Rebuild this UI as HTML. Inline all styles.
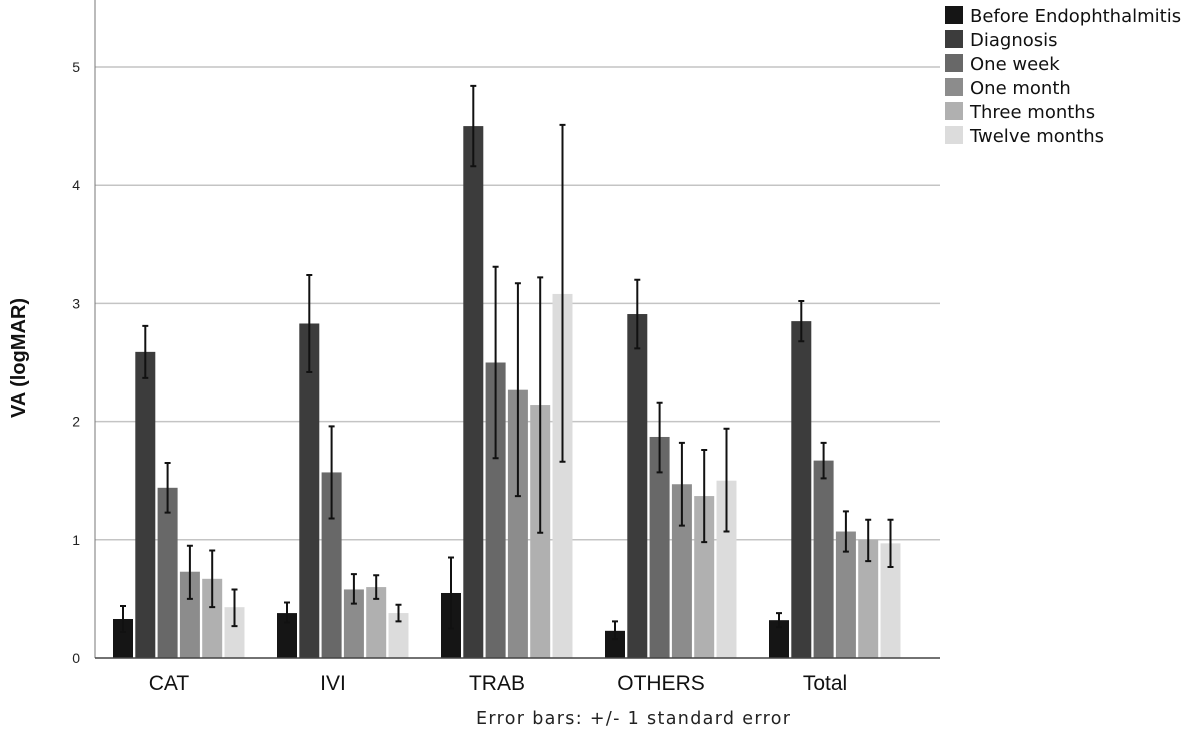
<!DOCTYPE html>
<html><head><meta charset="utf-8"><style>
body{margin:0;background:#fff;}
svg text{font-family:"Liberation Sans",sans-serif;}
</style></head><body>
<svg id="chart" width="1200" height="739" xmlns="http://www.w3.org/2000/svg"></svg>
<script>
const categories=["CAT","IVI","TRAB","OTHERS","Total"];
const seriesNames=["Before Endophthalmitis","Diagnosis","One week","One month","Three months","Twelve months"];
const means=[[0.33,2.59,1.44,0.73,0.67,0.43],[0.38,2.83,1.57,0.58,0.60,0.38],[0.55,4.50,2.50,2.27,2.14,3.08],[0.23,2.91,1.87,1.47,1.37,1.50],[0.32,2.85,1.67,1.07,1.00,0.97]];
const errLow=[[0.22,2.37,1.23,0.50,0.43,0.27],[0.30,2.42,1.18,0.46,0.50,0.31],[0.25,4.16,1.69,1.37,1.06,1.66],[0.16,2.62,1.57,1.12,0.98,1.07],[0.26,2.68,1.52,0.90,0.82,0.77]];
const errHigh=[[0.44,2.81,1.65,0.95,0.91,0.58],[0.47,3.24,1.96,0.71,0.70,0.45],[0.85,4.84,3.31,3.17,3.22,4.51],[0.31,3.20,2.16,1.82,1.76,1.94],[0.38,3.02,1.82,1.24,1.17,1.17]];
const yTicks=[0,1,2,3,4,5];
const colors=["#151515","#3c3c3c","#686868","#8c8c8c","#b0b0b0","#dcdcdc"];
const NS="http://www.w3.org/2000/svg",svg=document.getElementById('chart');
const y0=658,pu=118.2,left=95,right=940;
const y=v=>y0-v*pu;
const gx=i=>113+i*164;
function el(t,a,p){const e=document.createElementNS(NS,t);for(const k in a)e.setAttribute(k,a[k]);(p||svg).appendChild(e);return e;}
yTicks.forEach(t=>{
 if(t>0){const g=el('line',{x1:left,x2:right,y1:y(t),y2:y(t),stroke:'#c4c4c4','stroke-width':1.5});
 
 }
 const l=el('text',{x:80,y:y(t)+5,'text-anchor':'end','font-size':14,fill:'#222'});l.textContent=t;
 
 
});
const ax=el('line',{x1:left,x2:left,y1:0,y2:y0,stroke:'#777','stroke-width':1});


categories.forEach((c,i)=>{
 means[i].forEach((m,j)=>{
  const x=gx(i)+j*22.3;
  const b=el('rect',{x:x,y:y(m),width:20,height:m*pu,fill:colors[j]});
  
  
  const cx=x+10,lo=y(errLow[i][j]),hi=y(errHigh[i][j]);
  const e=el('path',{d:`M${cx},${lo}V${hi}M${cx-3},${lo}H${cx+3}M${cx-3},${hi}H${cx+3}`,stroke:'#111','stroke-width':2,fill:'none'});
  
  
 });
 const t=el('text',{x:gx(i)+56,y:690,'text-anchor':'middle','font-size':21,fill:'#111'});t.textContent=c;
 
 
});
const base=el('line',{x1:left,x2:right,y1:y0,y2:y0,stroke:'#444','stroke-width':1.5});


const yt=el('text',{x:0,y:0,transform:'translate(25,358) rotate(-90)','text-anchor':'middle','font-size':20,'font-weight':'bold',fill:'#111'});yt.textContent='VA (logMAR)';


const ft=el('text',{x:476,y:724,'font-size':17.5,fill:'#222',textLength:314,lengthAdjust:'spacing',style:'font-family:"DejaVu Sans",sans-serif'});ft.textContent='Error bars: +/- 1 standard error';


seriesNames.forEach((n,j)=>{
 const yy=6+j*24;
 const s=el('rect',{x:945,y:yy,width:18,height:18,fill:colors[j]});
 
 
 const t=el('text',{x:970,y:yy+16,'font-size':18,fill:'#111',style:'font-family:"DejaVu Sans",sans-serif'});t.textContent=n;
 
 
});
</script>
</body></html>
